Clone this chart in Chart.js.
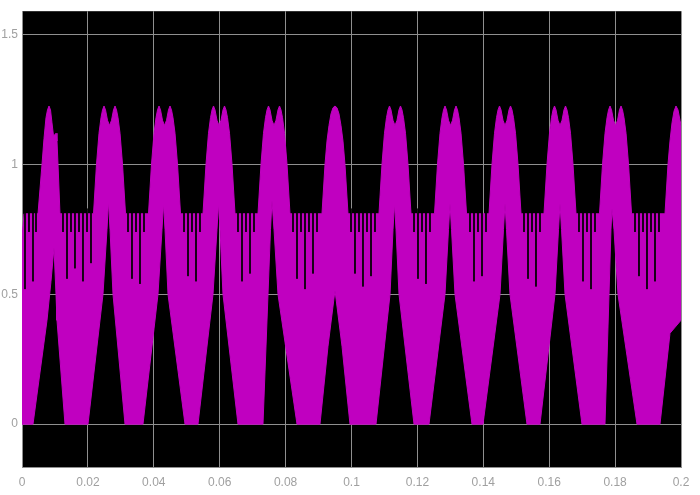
<!DOCTYPE html>
<html>
<head>
<meta charset="utf-8">
<script src="https://cdn.jsdelivr.net/npm/chart.js@4.4.0/dist/chart.umd.min.js"></script>
<style>
  html, body { margin: 0; padding: 0; background: #fff; }
</style>
</head>
<body>
<canvas id="scope" width="700" height="495"></canvas>
<script>
// time axis, seconds
const xTicks = [0, 0.02, 0.04, 0.06, 0.08, 0.1, 0.12, 0.14, 0.16, 0.18, 0.2];
const yTicks = [0, 0.5, 1, 1.5];

// upper envelope of the trace (lobes rise out of the ~0.8 comb)
const upperT = [
  0, 0.0006,
  0.00486, 0.00607, 0.00668, 0.00728, 0.00774, 0.00819, 0.00865, 0.00910, 0.00956, 0.01002, 0.01032, 0.01062, 0.01093, 0.01153,
  0.02170, 0.02261, 0.02337, 0.02398, 0.02444, 0.02489, 0.02535, 0.02595, 0.02656, 0.02717, 0.02777, 0.02823, 0.02868, 0.02914, 0.02975, 0.03051, 0.03142,
  0.03839, 0.03930, 0.04006, 0.04067, 0.04113, 0.04158, 0.04204, 0.04264, 0.04325, 0.04386, 0.04446, 0.04492, 0.04537, 0.04583, 0.04644, 0.04720, 0.04811,
  0.05493, 0.05584, 0.05660, 0.05721, 0.05767, 0.05812, 0.05858, 0.05918, 0.05979, 0.06040, 0.06100, 0.06146, 0.06191, 0.06237, 0.06298, 0.06374, 0.06465,
  0.07162, 0.07253, 0.07329, 0.07390, 0.07436, 0.07481, 0.07527, 0.07587, 0.07648, 0.07709, 0.07769, 0.07815, 0.07860, 0.07906, 0.07967, 0.08043, 0.08134,
  0.09104, 0.09196, 0.09256, 0.09317, 0.09378, 0.09438, 0.09499, 0.09560, 0.09620, 0.09681, 0.09742, 0.09802, 0.09894,
  0.10834, 0.10925, 0.11001, 0.11062, 0.11108, 0.11153, 0.11199, 0.11259, 0.11320, 0.11381, 0.11441, 0.11487, 0.11532, 0.11578, 0.11639, 0.11715, 0.11806,
  0.12519, 0.12610, 0.12686, 0.12747, 0.12793, 0.12838, 0.12884, 0.12944, 0.13005, 0.13066, 0.13126, 0.13172, 0.13217, 0.13263, 0.13324, 0.13400, 0.13491,
  0.14173, 0.14264, 0.14340, 0.14401, 0.14447, 0.14492, 0.14538, 0.14598, 0.14659, 0.14720, 0.14780, 0.14826, 0.14871, 0.14917, 0.14978, 0.15054, 0.15145,
  0.15842, 0.15933, 0.16009, 0.16070, 0.16116, 0.16161, 0.16207, 0.16267, 0.16328, 0.16389, 0.16449, 0.16495, 0.16540, 0.16586, 0.16647, 0.16723, 0.16814,
  0.17527, 0.17618, 0.17694, 0.17755, 0.17801, 0.17846, 0.17892, 0.17952, 0.18013, 0.18074, 0.18134, 0.18180, 0.18225, 0.18271, 0.18332, 0.18408, 0.18499,
  0.19514, 0.19605, 0.19666, 0.19727, 0.19788, 0.19848, 0.19909, 0.19970, 0.2
];
const upperV = [
  0.72, 0.81,
  0.81, 1.00, 1.10, 1.18, 1.21, 1.225, 1.21, 1.16, 1.11, 1.115, 1.12, 1.09, 1.00, 0.81,
  0.81, 1.00, 1.12, 1.18, 1.21, 1.225, 1.21, 1.17, 1.15, 1.17, 1.21, 1.225, 1.21, 1.18, 1.12, 1.00, 0.81,
  0.81, 1.00, 1.12, 1.18, 1.21, 1.225, 1.21, 1.17, 1.15, 1.17, 1.21, 1.225, 1.21, 1.18, 1.12, 1.00, 0.81,
  0.81, 1.00, 1.12, 1.18, 1.21, 1.225, 1.21, 1.17, 1.15, 1.17, 1.21, 1.225, 1.21, 1.18, 1.12, 1.00, 0.81,
  0.81, 1.00, 1.12, 1.18, 1.21, 1.225, 1.21, 1.17, 1.15, 1.17, 1.21, 1.225, 1.21, 1.18, 1.12, 1.00, 0.81,
  0.81, 1.00, 1.09, 1.15, 1.195, 1.218, 1.225, 1.218, 1.195, 1.15, 1.09, 1.00, 0.81,
  0.81, 1.00, 1.12, 1.18, 1.21, 1.225, 1.21, 1.17, 1.15, 1.17, 1.21, 1.225, 1.21, 1.18, 1.12, 1.00, 0.81,
  0.81, 1.00, 1.12, 1.18, 1.21, 1.225, 1.21, 1.17, 1.15, 1.17, 1.21, 1.225, 1.21, 1.18, 1.12, 1.00, 0.81,
  0.81, 1.00, 1.12, 1.18, 1.21, 1.225, 1.21, 1.17, 1.15, 1.17, 1.21, 1.225, 1.21, 1.18, 1.12, 1.00, 0.81,
  0.81, 1.00, 1.12, 1.18, 1.21, 1.225, 1.21, 1.17, 1.15, 1.17, 1.21, 1.225, 1.21, 1.18, 1.12, 1.00, 0.81,
  0.81, 1.00, 1.12, 1.18, 1.21, 1.225, 1.21, 1.17, 1.15, 1.17, 1.21, 1.225, 1.21, 1.18, 1.12, 1.00, 0.81,
  0.81, 1.00, 1.09, 1.16, 1.205, 1.225, 1.21, 1.17, 1.15
];

// lower envelope (the black wedges under each lobe)
const lowerT = [
  0, 0.00334, 0.00759, 0.00880, 0.00971, 0.01032, 0.01062, 0.01305,
  0.02003, 0.02458, 0.02580, 0.02625, 0.02671, 0.02762, 0.03126,
  0.03672, 0.04127, 0.04249, 0.04294, 0.04340, 0.04431, 0.04947,
  0.05341, 0.05797, 0.05918, 0.05964, 0.06009, 0.06100, 0.06555,
  0.07314, 0.07466, 0.07542, 0.07587, 0.07648, 0.07769, 0.08346,
  0.09044, 0.09287, 0.09499, 0.09712, 0.09954,
  0.10744, 0.11169, 0.11260, 0.11305, 0.11351, 0.11442, 0.11897,
  0.12352, 0.12838, 0.12944, 0.12990, 0.13035, 0.13141, 0.13657,
  0.13991, 0.14507, 0.14613, 0.14659, 0.14704, 0.14810, 0.15326,
  0.15721, 0.16176, 0.16283, 0.16328, 0.16374, 0.16480, 0.16995,
  0.17693, 0.17815, 0.17875, 0.17906, 0.17966, 0.18088, 0.18665,
  0.19363, 0.19666, 0.2
];
const lowerV = [
  0, 0, 0.40, 0.55, 0.68, 0.50, 0.40, 0,
  0, 0.50, 0.75, 0.86, 0.75, 0.50, 0,
  0, 0.50, 0.75, 0.85, 0.75, 0.50, 0,
  0, 0.50, 0.75, 0.85, 0.75, 0.50, 0,
  0, 0.50, 0.75, 0.86, 0.75, 0.50, 0,
  0, 0.30, 0.515, 0.30, 0,
  0, 0.50, 0.75, 0.85, 0.75, 0.50, 0,
  0, 0.50, 0.75, 0.85, 0.75, 0.50, 0,
  0, 0.50, 0.75, 0.85, 0.75, 0.50, 0,
  0, 0.50, 0.75, 0.85, 0.75, 0.50, 0,
  0, 0.50, 0.75, 0.83, 0.75, 0.50, 0,
  0, 0.35, 0.40
];

// gaps between oscillations in the comb, from slitTop down to slitLo
const slitT = [
  0.00091, 0.00212, 0.00334, 0.00425,
  0.01244, 0.01366, 0.01487, 0.01608, 0.01730, 0.01851, 0.01973, 0.02094,
  0.03217, 0.03338, 0.03460, 0.03581, 0.03703,
  0.04917, 0.05038, 0.05159, 0.05281, 0.05402,
  0.06555, 0.06677, 0.06798, 0.06920, 0.07041,
  0.08225, 0.08346, 0.08467, 0.08589, 0.08710, 0.08832, 0.08953,
  0.09985, 0.10106, 0.10228, 0.10349, 0.10470, 0.10592, 0.10713,
  0.11897, 0.12018, 0.12140, 0.12261, 0.12382,
  0.13596, 0.13718, 0.13839, 0.13961, 0.14082,
  0.15235, 0.15357, 0.15478, 0.15599, 0.15721,
  0.16904, 0.17026, 0.17147, 0.17269, 0.17390,
  0.18604, 0.18725, 0.18847, 0.18968, 0.19090, 0.19211, 0.19332
];
const slitLo = [
  0.52, 0.74, 0.55, 0.74,
  0.74, 0.56, 0.74, 0.60, 0.74, 0.55, 0.74, 0.62,
  0.74, 0.56, 0.74, 0.54, 0.74,
  0.74, 0.57, 0.74, 0.55, 0.74,
  0.74, 0.55, 0.74, 0.58, 0.74,
  0.74, 0.56, 0.74, 0.52, 0.74, 0.58, 0.74,
  0.74, 0.58, 0.74, 0.53, 0.74, 0.57, 0.74,
  0.74, 0.56, 0.74, 0.54, 0.74,
  0.74, 0.55, 0.74, 0.57, 0.74,
  0.74, 0.56, 0.74, 0.53, 0.74,
  0.74, 0.55, 0.74, 0.52, 0.74,
  0.74, 0.57, 0.74, 0.52, 0.74, 0.55, 0.74
];
const slitTop = 0.83;

const traceColor = "#c000c0";
const gridColor = "#8f8f8f";
const labelColor = "#a0a0a0";

const pts = (xs, ys) => xs.map((x, i) => ({ x: x, y: ys[i] }));

const slitPts = [];
slitT.forEach((t, i) => {
    slitPts.push({ x: t, y: slitTop }, { x: t, y: slitLo[i] }, { x: t, y: null });
});

const plotBg = {
    id: "plotBg",
    beforeDraw(chart) {
        const a = chart.chartArea;
        const ctx = chart.ctx;
        ctx.save();
        ctx.fillStyle = "#000";
        ctx.fillRect(a.left, a.top, a.right - a.left, a.bottom - a.top);
        ctx.restore();
    },
};

const ctx = document.getElementById("scope").getContext("2d");
new Chart(ctx, {
    type: "scatter",
    data: {
        datasets: [
            {
                label: "slits",
                data: slitPts,
                showLine: true,
                spanGaps: false,
                borderColor: "#000",
                borderWidth: 1,
                pointRadius: 0,
                fill: false,
            },
            {
                label: "upper",
                data: pts(upperT, upperV),
                showLine: true,
                borderColor: traceColor,
                borderWidth: 1,
                backgroundColor: traceColor,
                pointRadius: 0,
                tension: 0,
                fill: "+1",
            },
            {
                label: "lower",
                data: pts(lowerT, lowerV),
                showLine: true,
                borderColor: traceColor,
                borderWidth: 1,
                pointRadius: 0,
                tension: 0,
                fill: false,
            },
        ],
    },
    options: {
        responsive: false,
        animation: false,
        devicePixelRatio: 1,
        layout: { padding: { top: 10, right: 19, left: 0, bottom: 0 } },
        plugins: {
            legend: { display: false },
            tooltip: { enabled: false },
        },
        scales: {
            x: {
                type: "linear",
                min: 0,
                max: 0.2,
                afterFit(s) { s.height = 28; },
                afterBuildTicks(s) { s.ticks = xTicks.map(v => ({ value: v })); },
                ticks: {
                    autoSkip: false,
                    maxRotation: 0,
                    padding: 8,
                    color: labelColor,
                    font: { family: "Liberation Sans, Arial", size: 12 },
                    callback: v => String(+v.toFixed(2)),
                },
                grid: { color: gridColor, lineWidth: 1, drawTicks: false },
                border: { display: true, color: gridColor },
            },
            y: {
                min: -0.165,
                max: 1.59,
                afterFit(s) { s.width = 22; },
                afterBuildTicks(s) { s.ticks = yTicks.map(v => ({ value: v })); },
                ticks: {
                    padding: 4,
                    color: labelColor,
                    font: { family: "Liberation Sans, Arial", size: 12 },
                    callback: v => String(v),
                },
                grid: { color: gridColor, lineWidth: 1, drawTicks: false },
                border: { display: true, color: gridColor },
            },
        },
    },
    plugins: [plotBg],
});
</script>
</body>
</html>
